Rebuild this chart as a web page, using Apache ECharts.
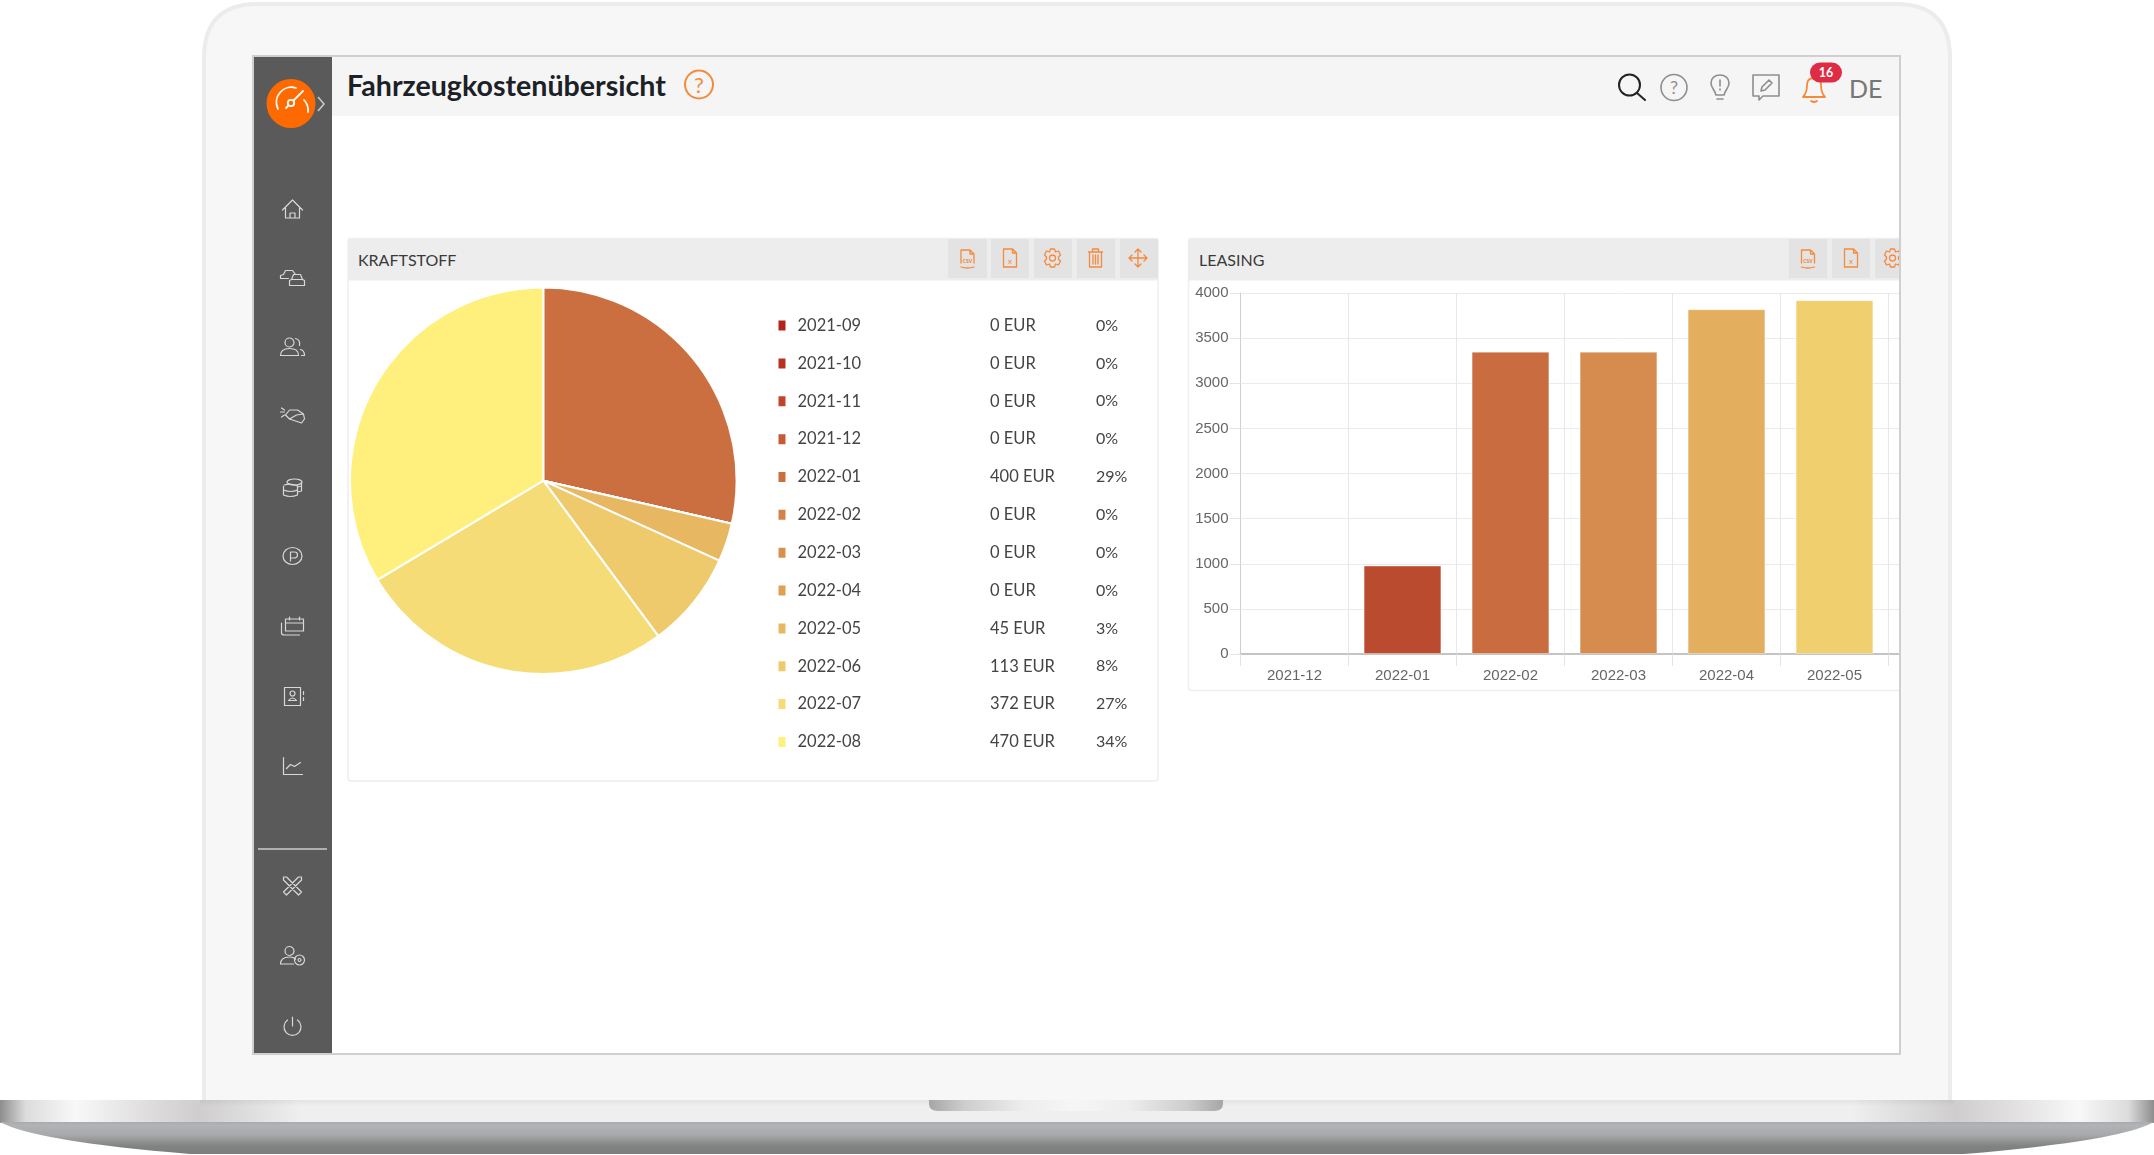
<!DOCTYPE html>
<html>
<head>
<meta charset="UTF-8">
<title>Fahrzeugkostenübersicht</title>
<script type="text/javascript" src="https://cdn.jsdelivr.net/npm/echarts@6/dist/echarts.min.js"></script>
<style>
	html, body { margin: 0; padding: 0; background: #fff; overflow: hidden; }
	#chrome { position: absolute; left: 0; top: 0; }
	#chrome text { font-family: Lato, "Noto Sans", sans-serif; }
	.ico { fill: none; stroke: #d8d8d8; stroke-width: 1.2; stroke-linecap: round; stroke-linejoin: round; }
	.tool { fill: none; stroke: #f58a3c; stroke-width: 1.3; stroke-linecap: round; stroke-linejoin: round; }
	.top { fill: none; stroke: #8e8e8e; stroke-width: 1.6; stroke-linecap: round; stroke-linejoin: round; }
	#pie { position: absolute; left: 348px; top: 281px; width: 810px; height: 501px; }
	#barClip { position: absolute; left: 1189px; top: 281px; width: 710px; height: 410px; overflow: hidden; }
	#bar { width: 850px; height: 410px; }
</style>
</head>
<body>
<svg id="chrome" width="2154" height="1155" viewBox="0 0 2154 1155" xmlns="http://www.w3.org/2000/svg">
	<defs>
		<linearGradient id="band" x1="0" x2="1" y1="0" y2="0">
			<stop offset="0" stop-color="#8d8d8d"/><stop offset="0.012" stop-color="#dcdcdc"/>
			<stop offset="0.035" stop-color="#f8f8f8"/><stop offset="0.07" stop-color="#dedcdc"/>
			<stop offset="0.092" stop-color="#cfcdcd"/><stop offset="0.14" stop-color="#efefef"/>
			<stop offset="0.86" stop-color="#efefef"/><stop offset="0.908" stop-color="#cfcdcd"/>
			<stop offset="0.93" stop-color="#dedcdc"/><stop offset="0.965" stop-color="#f8f8f8"/>
			<stop offset="0.988" stop-color="#dcdcdc"/><stop offset="1" stop-color="#8d8d8d"/>
		</linearGradient>
		<linearGradient id="lower" x1="0" x2="0" y1="0" y2="1">
			<stop offset="0" stop-color="#a9aaaf"/><stop offset="0.1" stop-color="#b2b3b6"/>
			<stop offset="0.4" stop-color="#a8a9ab"/><stop offset="0.75" stop-color="#818282"/>
			<stop offset="1" stop-color="#7c7d7d"/>
		</linearGradient>
		<linearGradient id="notch" x1="0" x2="1" y1="0" y2="0">
			<stop offset="0" stop-color="#a6a6a6"/><stop offset="0.12" stop-color="#cdcdcd"/>
			<stop offset="0.32" stop-color="#ededed"/><stop offset="0.5" stop-color="#f6f6f6"/>
			<stop offset="0.68" stop-color="#ededed"/><stop offset="0.88" stop-color="#cdcdcd"/>
			<stop offset="1" stop-color="#a6a6a6"/>
		</linearGradient>
		<linearGradient id="lip" x1="0" x2="0" y1="0" y2="1">
			<stop offset="0" stop-color="#000" stop-opacity="0.05"/><stop offset="1" stop-color="#000" stop-opacity="0"/>
		</linearGradient>
		<clipPath id="screenClip"><rect x="254" y="57" width="1645" height="996"/></clipPath>

		<g id="csv" class="tool"><path d="M-6 -8 H3 L7 -4 V5 M3 -8 V-4 H7 M-6 -8 V5 M-6 9 Q0 11 7 9"/><text x="0.5" y="5" font-size="6.5" text-anchor="middle" fill="#f58a3c" stroke="none" font-weight="700">csv</text></g>
		<g id="xls" class="tool"><path d="M-6 -9 H3 L7 -5 V9 H-6 Z M3 -9 V-5 H7"/><text x="0.5" y="6" font-size="8" text-anchor="middle" fill="#f58a3c" stroke="none">x</text></g>
		<g id="gear" class="tool"><path d="M-2 -9 H2 L3 -6 L6 -7 L8 -3 L6 -1 V1 L8 3 L6 7 L3 6 L2 9 H-2 L-3 6 L-6 7 L-8 3 L-6 1 V-1 L-8 -3 L-6 -7 L-3 -6 Z"/><circle r="3"/></g>
		<g id="trash" class="tool"><path d="M-7 -6 H7 M-3 -6 V-9 H3 V-6 M-6 -6 V9 H6 V-6 M-2.5 -3 V6 M0 -3 V6 M2.5 -3 V6"/></g>
		<g id="move" class="tool"><path d="M-9 0 H9 M0 -9 V9 M-3 -6 L0 -9 L3 -6 M-3 6 L0 9 L3 6 M-6 -3 L-9 0 L-6 3 M6 -3 L9 0 L6 3"/></g>
	</defs>

	<!-- laptop -->
	<path d="M204 1105 V58 Q204 4 258 4 H1896 Q1950 4 1950 58 V1105 Z" fill="#f7f7f7" stroke="#ececec" stroke-width="4"/>
	<rect x="0" y="1100" width="2154" height="23" fill="url(#band)"/>
	<rect x="200" y="1100" width="1754" height="6" fill="url(#lip)"/>
	<path d="M0 1122 Q34 1141 190 1154 H1964 Q2120 1141 2154 1122 Z" fill="url(#lower)"/>
	<path d="M929 1100 H1223 V1104 Q1223 1111 1214 1111 H938 Q929 1111 929 1104 Z" fill="url(#notch)"/>

	<!-- screen -->
	<rect x="253" y="56" width="1647" height="998" fill="#fff" stroke="#cfcfcf" stroke-width="2"/>
	<g clip-path="url(#screenClip)">
		<rect x="332" y="57" width="1568" height="59" fill="#f5f5f5"/>
		<rect x="254" y="57" width="78" height="996" fill="#5a5a5a"/>

		<!-- panels -->
		<rect x="348" y="238.5" width="810" height="542.5" rx="3" fill="#fff" stroke="#eeeeee" stroke-width="1.5"/>
		<rect x="348" y="238.5" width="810" height="42" fill="#ededed"/>
		<rect x="948" y="239" width="39" height="39" fill="#e3e3e3"/>
		<rect x="991" y="239" width="38" height="39" fill="#e3e3e3"/>
		<rect x="1034" y="239" width="38" height="39" fill="#e3e3e3"/>
		<rect x="1077" y="239" width="38" height="39" fill="#e3e3e3"/>
		<rect x="1120" y="239" width="38" height="39" fill="#e3e3e3"/>
		<use href="#csv" x="967" y="258"/><use href="#xls" x="1009.5" y="258"/><use href="#gear" x="1052.5" y="258"/><use href="#trash" x="1095.5" y="258"/><use href="#move" x="1138" y="258"/>
		<text x="358" y="265.5" font-size="16" fill="#3a3a3a">KRAFTSTOFF</text>

		<rect x="1188.5" y="238.5" width="760" height="452" rx="3" fill="#fff" stroke="#eeeeee" stroke-width="1.5"/>
		<rect x="1188.5" y="238.5" width="760" height="42" fill="#ededed"/>
		<rect x="1789" y="239" width="38" height="39" fill="#e3e3e3"/>
		<rect x="1832" y="239" width="38" height="39" fill="#e3e3e3"/>
		<rect x="1875" y="239" width="38" height="39" fill="#e3e3e3"/>
		<use href="#csv" x="1807.5" y="258"/><use href="#xls" x="1850.5" y="258"/><use href="#gear" x="1892.5" y="258"/>
		<text x="1199" y="265.5" font-size="16" fill="#3a3a3a">LEASING</text>

		<!-- header -->
		<text x="347" y="96" font-size="28.6" font-weight="700" fill="#1c2027">Fahrzeugkostenübersicht</text>
		<circle cx="699" cy="84.5" r="14" fill="none" stroke="#f58a3c" stroke-width="2"/>
		<text x="699" y="93" font-size="22" text-anchor="middle" fill="#f58a3c">?</text>

		<g transform="translate(1631 87)" fill="none" stroke="#222" stroke-width="2" stroke-linecap="round"><circle cx="-1.5" cy="-2" r="10.5"/><path d="M6 6 L14 13"/></g>
		<g transform="translate(1674 87.5)" class="top"><circle r="13"/></g>
		<text x="1674" y="94" font-size="18" text-anchor="middle" fill="#8e8e8e">?</text>
		<g transform="translate(1720 87)" class="top"><path d="M-4 8 C-5 3 -9 1 -9 -4 C-9 -9 -5 -12 0 -12 C5 -12 9 -9 9 -4 C9 1 5 3 4 8 Z M-3 12 H3 M0 -7 V-1 M0 2 V3"/></g>
		<g transform="translate(1766 87)" class="top"><path d="M-13 -12 H13 V9 H-3 L-7 13 V9 H-13 Z M-5 4 L-4 0 L3 -7 L6 -4 L-1 3 Z"/></g>
		<g transform="translate(1814 89)" fill="none" stroke="#f58a3c" stroke-width="1.8" stroke-linecap="round" stroke-linejoin="round"><path d="M-11 8 C-7 4 -7 0 -7 -4 C-7 -9 -4 -11 0 -11 C4 -11 7 -9 7 -4 C7 0 7 4 11 8 Z M-3 12 Q0 14 3 12"/></g>
		<rect x="1810" y="62.5" width="32" height="20" rx="10" fill="#dd2c44"/>
		<text x="1826" y="77" font-size="12.5" font-weight="700" text-anchor="middle" fill="#fff">16</text>
		<text x="1849" y="97.5" font-size="25" fill="#777">DE</text>

		<!-- sidebar -->
		<circle cx="291" cy="103.5" r="24.5" fill="#ff6a00"/>
		<g fill="none" stroke="#fff" stroke-width="1.8" stroke-linecap="round">
			<path d="M278 109 A15 15 0 0 1 296 88"/><path d="M304 100 A15 15 0 0 1 308 112"/>
			<circle cx="291" cy="103" r="3.2"/><path d="M294 100 L303 91 M288 106 L286 108"/>
		</g>
		<path d="M318 97 L324 104 L318 111" fill="none" stroke="#c8c8c8" stroke-width="1.6"/>

		<g class="ico" transform="translate(292.5 209)"><path d="M-10 1 L0 -9 L10 1 M-7 -1 V9 H7 V-1 M-2.5 9 V4 H2.5 V9"/></g>
		<g class="ico" transform="translate(292.5 277.5)"><path d="M-12 1 V-2 L-9 -3 L-7 -7 H0 L3 -3 M-12 1 H-4 M-3 8 V3 L-1 2 L1 -3 H8 L10 2 L12 3 V8 Z M-1 2 H10"/></g>
		<g class="ico" transform="translate(292.5 347.5)"><circle cx="-3" cy="-5" r="4.5"/><path d="M-12 8 Q-12 1 -3 1 Q6 1 6 8 Z M3 -9 Q8 -8 7 -2 M8 2 Q12 3 12 8 H9"/></g>
		<g class="ico" transform="translate(292.5 416)"><path d="M-3 -6 H5 L11 -2 L12 3 L9 7 L-3 3 L-7 -1 Z M-3 3 L4 -1 L11 -2 M-12 -4 L-8 -4 M-11 -8 L-8 -6 M-11 1 L-8 -1"/></g>
		<g class="ico" transform="translate(292.5 488)"><ellipse cx="2" cy="-6" rx="7.5" ry="3"/><path d="M-8 -3 Q-2 -5 5 -2 M-9 -2 V7 Q-2 10 5 7 V-2 M-9 2 Q-2 5 5 2 M9 -6 V3 L5 4 M9 -2 L5 -1"/></g>
		<g class="ico" transform="translate(292.5 556)"><ellipse rx="9.5" ry="8.5"/><path d="M-2 -4 H2 Q5 -4 5 -1 Q5 2 1 2 H-2 V5 Z"/></g>
		<g class="ico" transform="translate(292.5 626)"><path d="M-7 -7 H11 V5 H-7 Z M-7 -3 H11 M-3 -9 V-6 M7 -9 V-6 M-11 -3 V7 Q-11 9 -8 9 H7"/></g>
		<g class="ico" transform="translate(292.5 696.5)"><path d="M-8 -9 H8 V9 H-8 Z M-4 4 Q0 -1 4 4 Z M11 -5 V-2 M11 1 V4"/><circle cy="-3" r="2.5"/></g>
		<g class="ico" transform="translate(292.5 766.5)"><path d="M-9 -9 V8 H10 M-6 2 L-2 -2 L2 0 L8 -4"/></g>
		<path d="M258 849 H327" stroke="#cccccc" stroke-width="1.5"/>
		<g class="ico" transform="translate(292.5 886)"><path d="M-9 -9 L-6 -9 L9 6 L6 9 L-9 -6 Z M9 -9 L6 -9 L-9 6 L-6 9 L9 -6 Z"/></g>
		<g class="ico" transform="translate(292.5 956)"><circle cx="-3" cy="-5" r="4.5"/><path d="M-12 8 Q-12 1 -3 1 Q1 1 3 3 M-12 8 H1"/><circle cx="7" cy="4" r="5"/><circle cx="7" cy="4" r="1.5"/></g>
		<g class="ico" transform="translate(292.5 1026)"><path d="M0 -9 V0 M-5 -6 A8.5 8.5 0 1 0 5 -6"/></g>
	</g>
</svg>

<div id="pie"></div>
<div id="barClip"><div id="bar"></div></div>

<script type="text/javascript">
	// Kraftstoff
	var fuelMonths = ['2021-09', '2021-10', '2021-11', '2021-12', '2022-01', '2022-02', '2022-03', '2022-04', '2022-05', '2022-06', '2022-07', '2022-08'];
	var fuelValues = [0, 0, 0, 0, 400, 0, 0, 0, 45, 113, 372, 470];
	var fuelPercents = [0, 0, 0, 0, 29, 0, 0, 0, 3, 8, 27, 34];
	var fuelColors = ['#b5221a', '#b8301f', '#bf4528', '#c65a35', '#cb6f41', '#d3824a', '#d9904f', '#e0a052', '#e8b762', '#efca6c', '#f6dc76', '#fff07d'];

	// Leasing (the last month lies outside the visible screen, its bar cannot be read)
	var leasingMonths = ['2021-12', '2022-01', '2022-02', '2022-03', '2022-04', '2022-05', '2022-06'];
	var leasingValues = [0, 980, 3350, 3350, 3820, 3920, null];
	var leasingColors = ['#b5321f', '#bb4b2f', '#c96c40', '#d68c4f', '#e3ae5e', '#f0cf6e', '#f7dc76'];
	var leasingTicks = [0, 4000, 500];

	var font = 'Lato, "Noto Sans", sans-serif';

	var pieChart = echarts.init(document.getElementById('pie'));
	pieChart.setOption({
		animation : false,
		legend : {
			orient : 'vertical',
			left : 423.5,
			top : 29.6,
			itemWidth : 9,
			itemHeight : 12,
			itemGap : 17.85,
			selectedMode : false,
			icon : 'rect',
			data : fuelMonths,
			formatter : function(name) {
				var i = fuelMonths.indexOf(name);
				return '{a|' + name + '}{b|' + fuelValues[i] + ' EUR}{c|' + fuelPercents[i] + '%}';
			},
			textStyle : {
				fontFamily : font,
				rich : {
					a : { width : 192.5, height : 20, lineHeight : 20, padding : [0, 0, 0, 6], fontSize : 16.5, color : '#444', fontFamily : font },
					b : { width : 106, height : 20, lineHeight : 20, fontSize : 16.5, color : '#444', fontFamily : font },
					c : { width : 50, height : 20, lineHeight : 20, fontSize : 16, color : '#444', fontFamily : font }
				}
			}
		},
		series : [ {
			type : 'pie',
			center : [195.3, 199.7],
			radius : [0, 193.3],
			startAngle : 90,
			clockwise : true,
			color : fuelColors,
			label : { show : false },
			labelLine : { show : false },
			silent : true,
			itemStyle : { borderColor : '#fff', borderWidth : 2 },
			data : fuelMonths.map(function(m, i) {
				return { name : m, value : fuelValues[i] };
			})
		} ]
	});

	var barChart = echarts.init(document.getElementById('bar'));
	barChart.setOption({
		animation : false,
		grid : { left : 51.5, top : 12, width : 756, height : 361 },
		xAxis : {
			type : 'category',
			data : leasingMonths,
			axisLine : { lineStyle : { color : '#c4c4c4', width : 2 } },
			axisTick : { show : true, length : 12, lineStyle : { color : '#e4e4e4' } },
			splitLine : { show : true, lineStyle : { color : '#e8e8e8' } },
			axisLabel : { interval : 0, margin : 14, color : '#666', fontSize : 15, fontFamily : 'Liberation Sans' }
		},
		yAxis : {
			type : 'value',
			min : leasingTicks[0],
			max : leasingTicks[1],
			interval : leasingTicks[2],
			axisLine : { show : true, lineStyle : { color : '#cfcfcf' } },
			axisTick : { show : true, length : 11, lineStyle : { color : '#e4e4e4' } },
			splitLine : { lineStyle : { color : '#ebebeb' } },
			axisLabel : {
				margin : 12, color : '#666', fontSize : 15, fontFamily : 'Liberation Sans',
				formatter : function(v) { return String(v); }
			}
		},
		series : [ {
			type : 'bar',
			barWidth : '72%',
			silent : true,
			data : leasingValues.map(function(v, i) {
				return { value : v, itemStyle : { color : leasingColors[i], borderColor : 'rgba(255,255,255,0.35)', borderWidth : v ? 1 : 0 } };
			})
		} ]
	});
</script>
</body>
</html>
